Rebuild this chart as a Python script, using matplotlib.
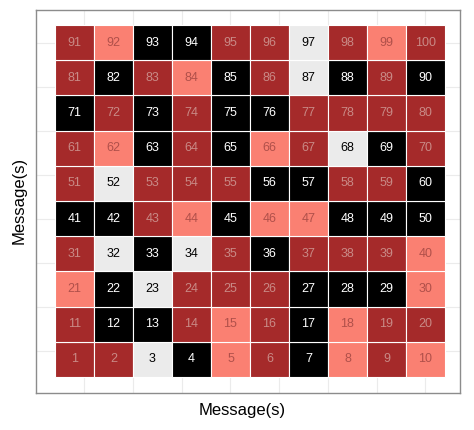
import numpy as np
import matplotlib
matplotlib.use('Agg')
import matplotlib.pyplot as plt

plt.rcParams['font.family'] = ['Liberation Sans', 'DejaVu Sans']

# cell categories, row by row from the bottom (1-10) to the top (91-100)
# R = dark red, S = salmon, B = black, G = light gray
rows = [
    "RRGBSRBSRS",   # 1-10
    "RBBRSRBSRR",   # 11-20
    "SBGRRRBBBS",   # 21-30
    "RGBGRBRRRS",   # 31-40
    "BBRSBSSBBB",   # 41-50
    "RGRRRBBRRB",   # 51-60
    "RSBRBSRGBR",   # 61-70
    "BRBRBBRRRR",   # 71-80
    "RBRSBRGBRB",   # 81-90
    "RSBBRRGRSR",   # 91-100
]
fills = {'R': '#A52A2A', 'S': '#FA8072', 'B': '#000000', 'G': '#EBEBEB'}
text_cols = {'R': '#C98A86', 'S': '#B0504A', 'B': '#FFFFFF', 'G': '#000000'}

fig = plt.figure(figsize=(4.74, 4.30), dpi=100)
ax = fig.add_axes([36/474, 37/430, 424/474, 383/430])

# grid (continuous scale look): majors at 2.5 steps, minors between
for v in np.arange(1.25, 11, 1.25):
    ax.axvline(v, color='#EBEBEB', lw=0.8, zorder=0)
    ax.axhline(v, color='#EBEBEB', lw=0.8, zorder=0)

for r, row in enumerate(rows):
    for c, k in enumerate(row):
        n = r * 10 + c + 1
        x, y = c + 1, r + 1
        ax.add_patch(plt.Rectangle((x - 0.5, y - 0.5), 1, 1, facecolor=fills[k],
                                   edgecolor='white', lw=0.8, zorder=2))
        ax.text(x, y, str(n), ha='center', va='center', fontsize=9,
                color=text_cols[k], zorder=3)

ax.set_xlim(0.013, 10.885)
ax.set_ylim(0.045, 10.926)
ax.set_xticks([])
ax.set_yticks([])
for s in ax.spines.values():
    s.set_color('#8C8C8C')
    s.set_linewidth(1.0)

fig.text(242/474, 1 - 411/430, 'Message(s)', ha='center', va='center', fontsize=12)
fig.text(19/474, 1 - 200/430, 'Message(s)', ha='center', va='center', fontsize=12,
         rotation=90)

fig.savefig('out.png', dpi=100)
